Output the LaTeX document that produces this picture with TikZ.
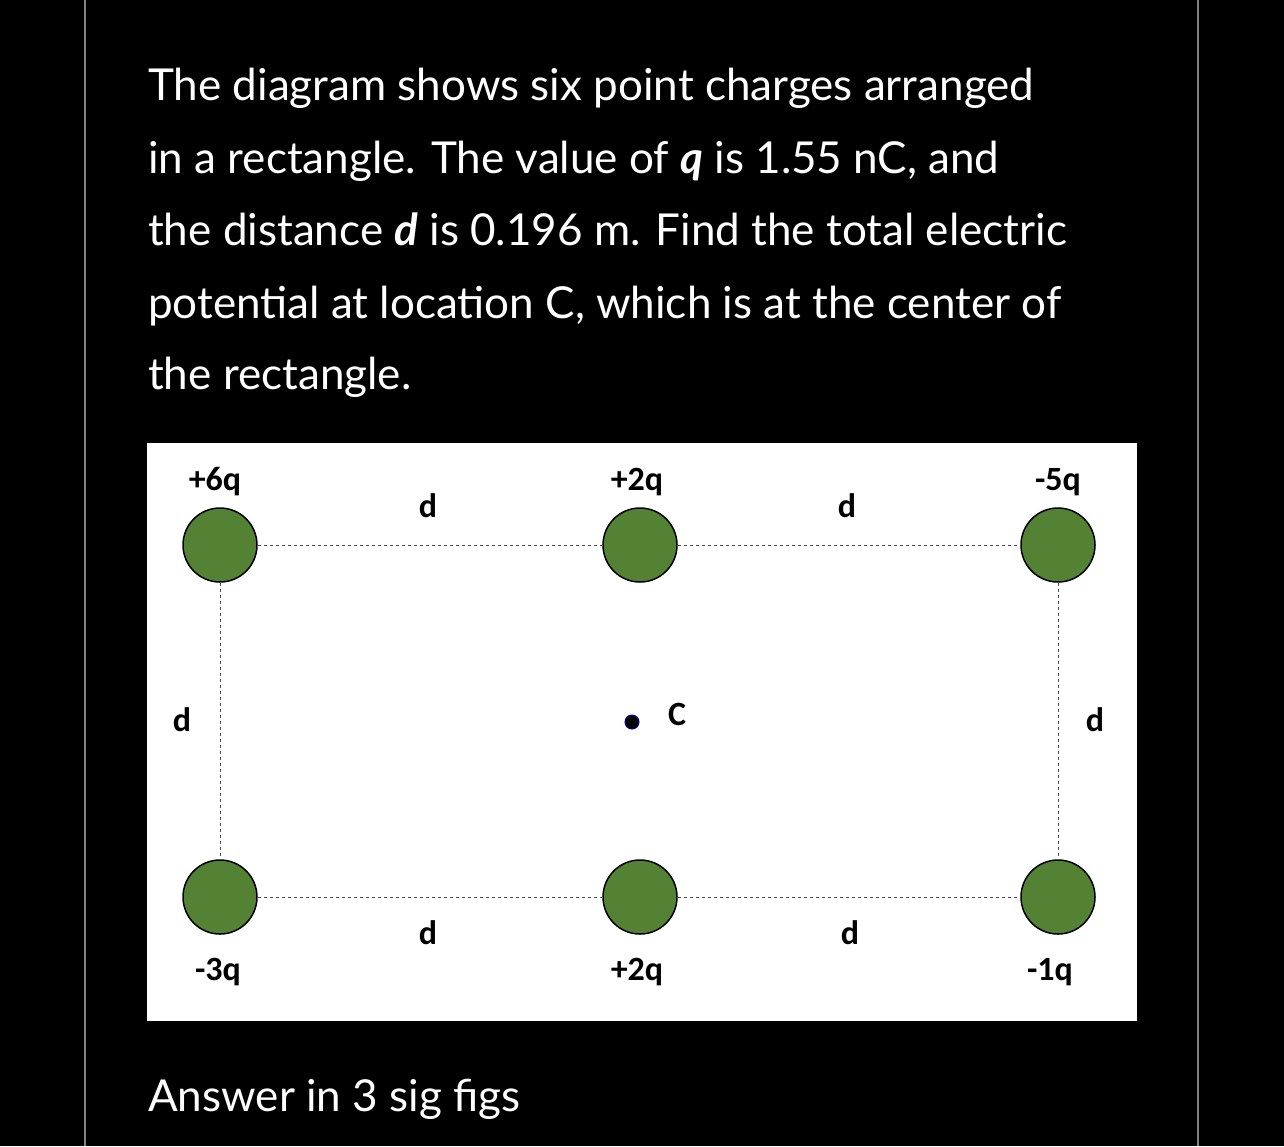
\documentclass[tikz,border=0pt]{standalone}
\usepackage{fontspec}
\usetikzlibrary{shapes.geometric}
\setmainfont{Lato}
\newfontfamily\carl{Carlito}
\begin{document}
\begin{tikzpicture}[x=1pt,y=-1pt,
 chg/.style={draw=black,line width=1.5pt,fill={rgb,255:red,84;green,130;blue,53},circle,minimum size=74pt,inner sep=0},
 lbl/.style={font=\carl\bfseries\fontsize{34}{40}\selectfont,text=black},
 dsh/.style={draw=black!70,dashed,line width=0.8pt},
 txt/.style={anchor=base west,text=white,font=\fontsize{44}{72}\selectfont,inner sep=0}]
\useasboundingbox[fill=black] (0,0) rectangle (1284,1146);
\draw[gray,line width=2pt] (85,0)--(85,1146) (1198,0)--(1198,1146);
\node[txt] (t1) at (148,100) {The diagram shows six point charges arranged};
\node[txt] (t2) at (148,173) {in a rectangle. The value of \textbf{\textit{q}} is 1.55 nC, and};
\node[txt] (t3) at (148,245) {the distance \textbf{\textit{d}} is 0.196 m. Find the total electric};
\node[txt] (t4) at (148,318) {potential at location C, which is at the center of};
\node[txt] (t5) at (148,389) {the rectangle.};
\fill[white] (147,443) rectangle (1137,1021);
\node[chg] (a) at (220,545) {};
\node[chg] (b) at (640,545) {};
\node[chg] (c) at (1058,545) {};
\node[chg] (e) at (220,897) {};
\node[chg] (f) at (640,897) {};
\node[chg] (g) at (1058,897) {};
\draw[dsh] (a)--(b) (b)--(c) (e)--(f) (f)--(g) (a)--(e) (c)--(g);
\fill[black] (632,722) circle (7);
\draw[blue!60!black,line width=1pt] (632,722) circle (7);
\node[lbl] (cl) at (677,714) {C};
\node[lbl] (l1) at (215,482) {+6q};
\node[lbl] (l2) at (637,482) {+2q};
\node[lbl] (l3) at (1058,482) {-5q};
\node[lbl] (l4) at (218,972) {-3q};
\node[lbl] (l5) at (637,972) {+2q};
\node[lbl] (l6) at (1050,972) {-1q};
\node[lbl] (d1) at (428,506) {d};
\node[lbl] (d2) at (847,506) {d};
\node[lbl] (d3) at (182,720) {d};
\node[lbl] (d4) at (1095,720) {d};
\node[lbl] (d5) at (428,933) {d};
\node[lbl] (d6) at (850,933) {d};
\node[txt] (ans) at (148,1111) {Answer in 3 sig figs};
\end{tikzpicture}
\end{document}
